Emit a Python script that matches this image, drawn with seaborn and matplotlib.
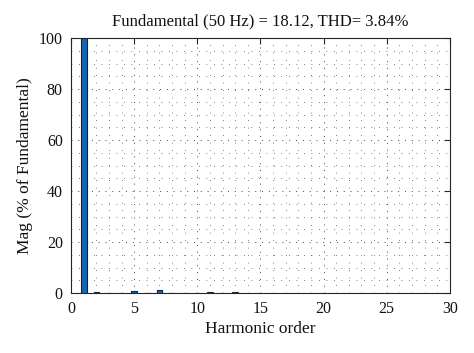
import matplotlib
matplotlib.use("Agg")
import matplotlib.pyplot as plt
import seaborn as sns
import numpy as np
import pandas as pd
from matplotlib.ticker import MultipleLocator

# Data
harmonic_order = [1, 2, 3, 4, 5, 6, 7, 8, 9, 10, 11, 12, 13]
magnitude = [100.0, 0.5, 0.1, 0.1, 0.8, 0.1, 1.2, 0.1, 0.1, 0.1, 0.3, 0.1, 0.3]
title_text = "Fundamental (50 Hz) = 18.12, THD= 3.84%"
x_label = "Harmonic order"
y_label = "Mag (% of Fundamental)"

sns.set_theme(style="white")
plt.rcParams['font.family'] = ['Liberation Serif', 'DejaVu Serif']

fig = plt.figure(figsize=(4.74, 3.53), dpi=100)
ax = fig.add_axes([0.150, 0.170, 0.799, 0.722])

df = pd.DataFrame({"order": harmonic_order, "mag": magnitude})
sns.barplot(data=df, x="order", y="mag", native_scale=True, width=0.45,
            color="#1565b0", edgecolor="#14243a", linewidth=0.8,
            saturation=1, ax=ax, zorder=3)

ax.set_xlim(0, 30)
ax.set_ylim(0, 100)
ax.xaxis.set_major_locator(MultipleLocator(5))
ax.xaxis.set_minor_locator(MultipleLocator(1))
ax.yaxis.set_major_locator(MultipleLocator(20))
ax.yaxis.set_minor_locator(MultipleLocator(5))

ax.grid(True, which="major", color="#444444", linewidth=0.7, linestyle=(0, (1, 6)))
ax.grid(True, which="minor", color="#555555", linewidth=0.6, linestyle=(0, (1, 8)))
ax.set_axisbelow(True)

for s in ax.spines.values():
    s.set_visible(True)
    s.set_color("#262626")
    s.set_linewidth(0.8)

ax.tick_params(axis="both", which="major", direction="in", length=4, width=0.8,
               color="#262626", top=True, right=True, labelsize=11.5,
               labelcolor="#111111", pad=6)
ax.tick_params(axis="both", which="minor", length=0, top=False, right=False)

ax.set_title(title_text, fontsize=12, color="#111111", pad=9)
ax.set_xlabel(x_label, fontsize=12.5, color="#111111", labelpad=3)
ax.set_ylabel(y_label, fontsize=12.5, color="#111111", labelpad=4)

fig.savefig("out.png", dpi=100)
